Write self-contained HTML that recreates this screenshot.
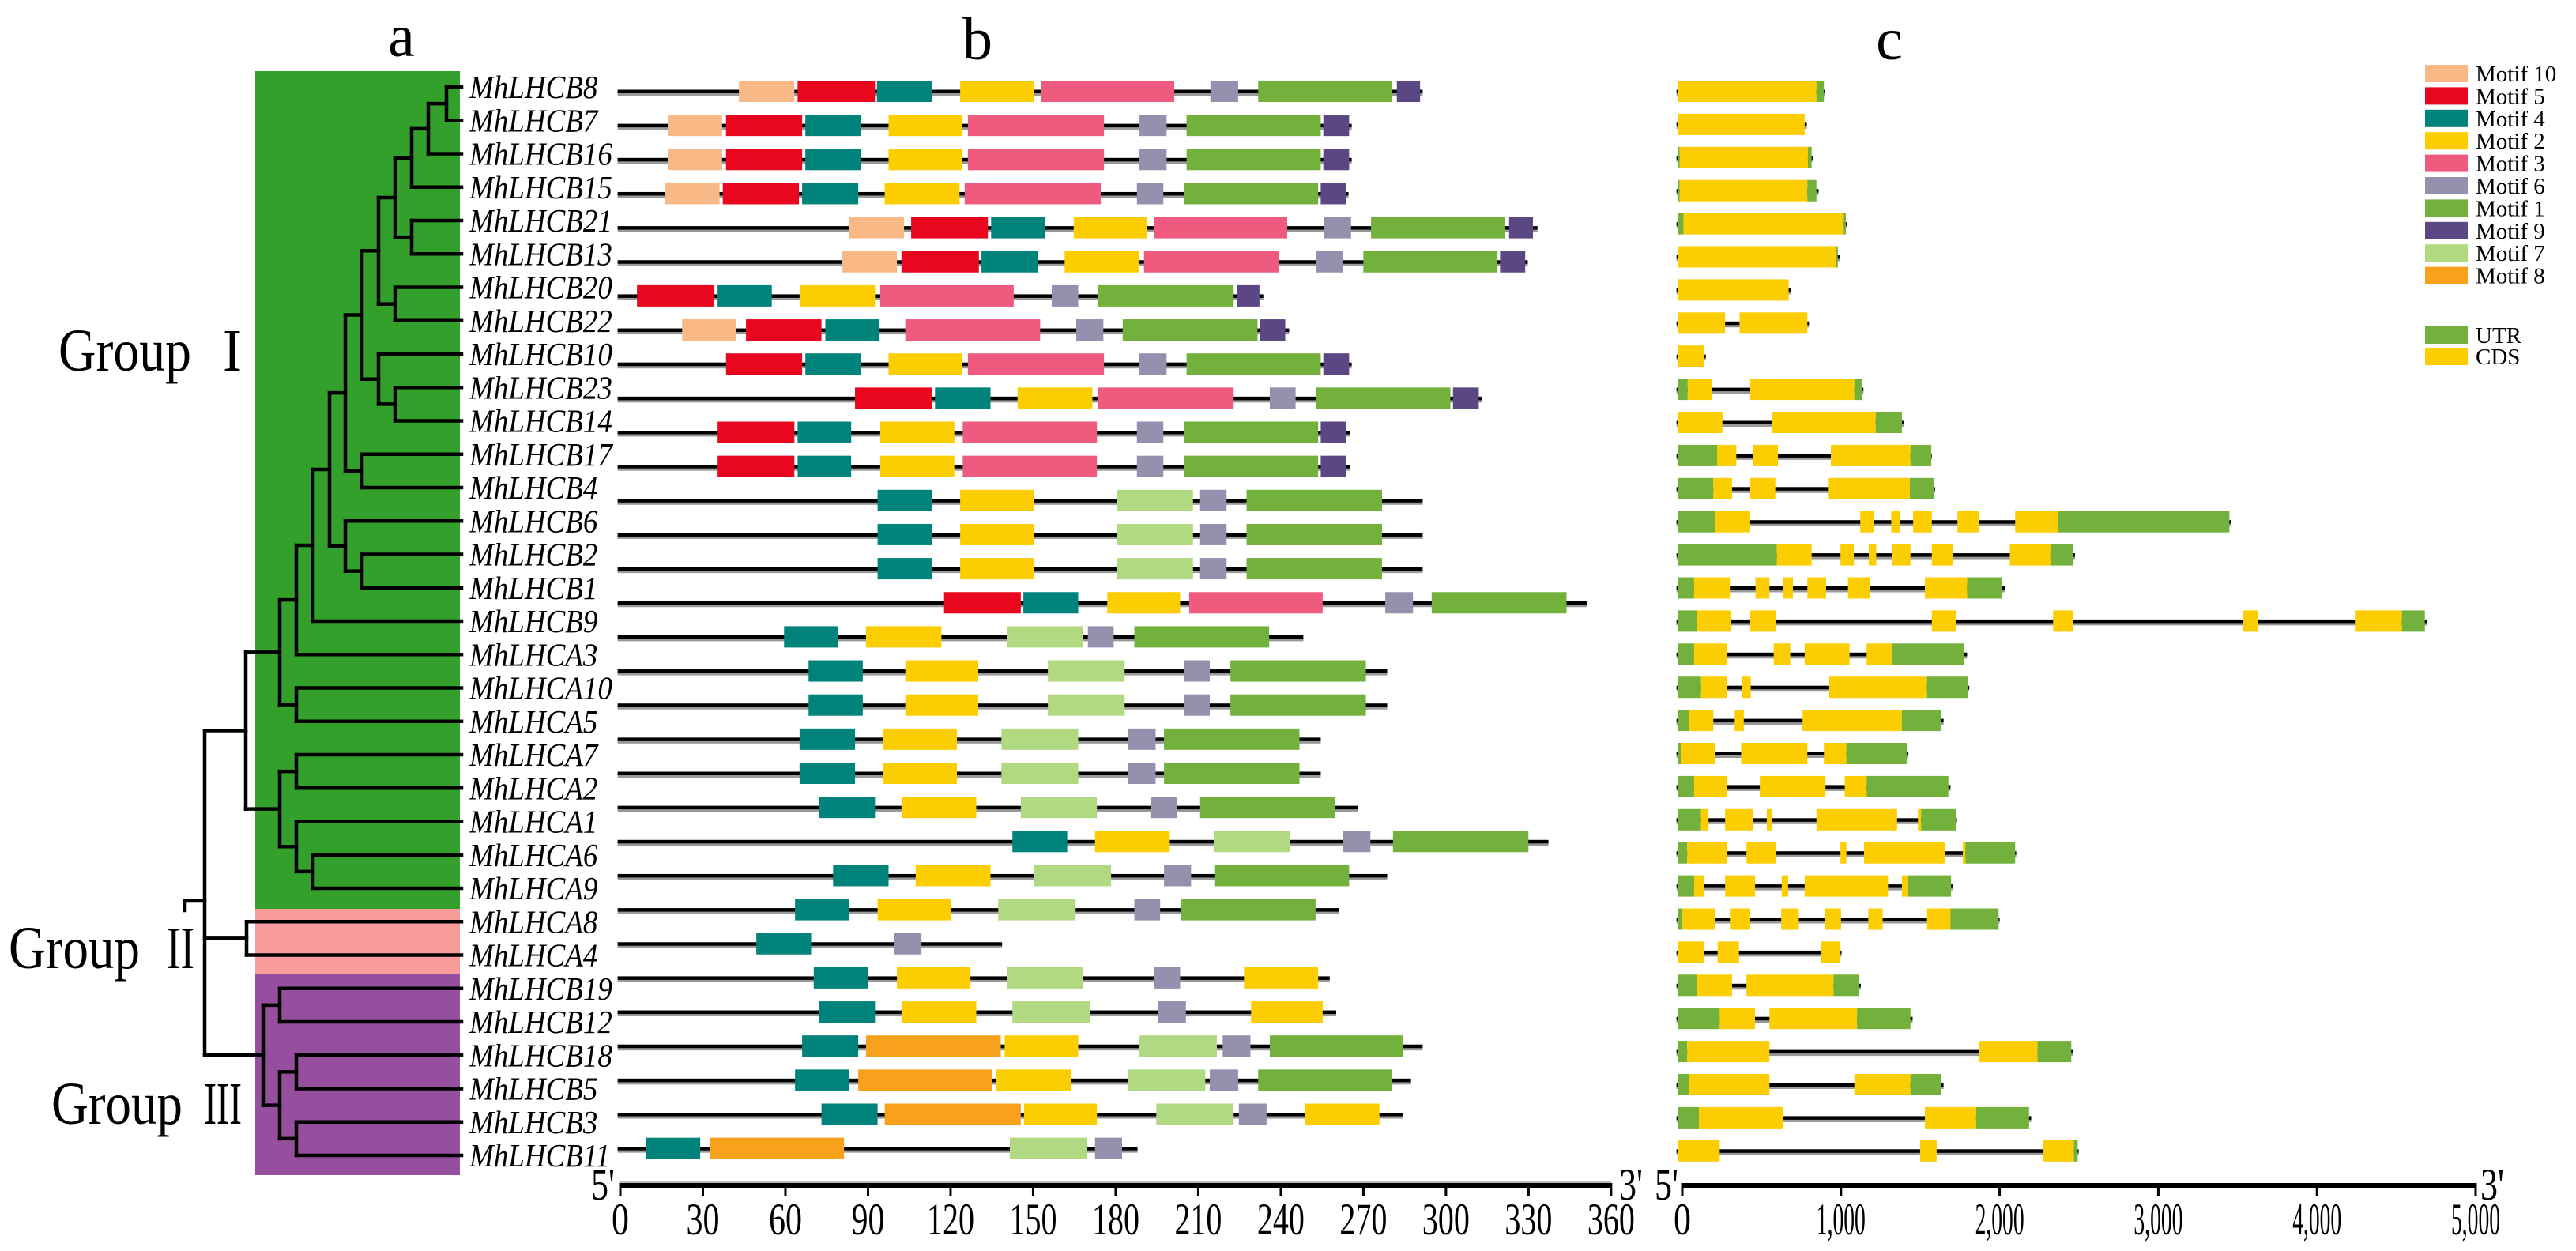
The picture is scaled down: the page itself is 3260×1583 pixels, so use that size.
<!DOCTYPE html>
<html><head><meta charset="utf-8">
<style>
html,body{margin:0;padding:0;background:#fff;}
svg{display:block;}
text{font-family:"Liberation Serif","Noto Serif CJK SC",serif;}
</style></head>
<body>
<svg id="s" xmlns="http://www.w3.org/2000/svg" width="3260" height="1583" viewBox="0 0 3260 1583">
<rect width="3260" height="1583" fill="#fff"/>
<rect x="323" y="90" width="259" height="1060" fill="#34A02C"/>
<rect x="323" y="1150" width="259" height="82" fill="#F99B9B"/>
<rect x="323" y="1232" width="259" height="255" fill="#954F9E"/>
<g id="tree" stroke="#000" stroke-width="4.5" fill="none" stroke-linecap="square"></g>
<g id="labels"></g>
<g id="bgenes" transform="translate(780,0) scale(0.81633,1)"></g>
<g id="cgenes" transform="translate(2100,0) scale(0.67604,1)"></g>
<g id="axes"></g>
<text x="508" y="71" font-size="76" text-anchor="middle">a</text>
<text x="1237" y="75" font-size="76" text-anchor="middle">b</text>
<text x="2391" y="75" font-size="76" text-anchor="middle">c</text>
<g transform="translate(0,469) scale(1,1.12)"><text x="74" y="0" font-size="68" textLength="168" lengthAdjust="spacingAndGlyphs">Group</text>
<text x="282" y="0" font-size="68" textLength="24" lengthAdjust="spacingAndGlyphs">I</text></g>
<g transform="translate(0,1225) scale(1,1.12)"><text x="11" y="0" font-size="68" textLength="166" lengthAdjust="spacingAndGlyphs">Group</text>
<text x="211" y="0" font-size="68" textLength="35" lengthAdjust="spacingAndGlyphs">II</text></g>
<g transform="translate(0,1422) scale(1,1.12)"><text x="65" y="0" font-size="68" textLength="166" lengthAdjust="spacingAndGlyphs">Group</text>
<text x="258" y="0" font-size="68" textLength="48" lengthAdjust="spacingAndGlyphs">III</text></g>
<g id="legend"></g>
</svg>
<script>
var NS="http://www.w3.org/2000/svg";
function el(p,tag,a,txt){var e=document.createElementNS(NS,tag);for(var k in a)e.setAttribute(k,a[k]);if(txt!==undefined)e.textContent=txt;p.appendChild(e);return e;}
var C={p:"#F9B987",r:"#E8071F",t:"#00837A",y:"#FCCD00",k:"#EF5B7E",s:"#9590AE",g:"#72B13C",d:"#5C4785",l:"#B1D982",o:"#F8A11C",G:"#72B13C",Y:"#FCCD00"};
var tg=document.getElementById("tree");
function T(i){return {x:584,y:110+42.25*i};}
function N(x){var k=[].slice.call(arguments,1);var ys=k.map(function(c){return c.y;});var mn=Math.min.apply(null,ys),mx=Math.max.apply(null,ys);
 el(tg,"line",{x1:x,y1:mn,x2:x,y2:mx});k.forEach(function(c){el(tg,"line",{x1:x,y1:c.y,x2:c.x,y2:c.y});});return {x:x,y:(mn+mx)/2};}
var n1=N(565,T(0),T(1)),n2=N(542,n1,T(2)),n3=N(521,n2,T(3)),n4=N(521,T(4),T(5)),n5=N(500,n3,n4),n6=N(500,T(6),T(7)),
n7=N(479,n5,n6),n8=N(500,T(9),T(10)),n9=N(479,T(8),n8),n10=N(458,n7,n9),n11=N(458,T(11),T(12)),n12=N(437,n10,n11),
n13=N(458,T(14),T(15)),n14=N(437,T(13),n13),n15=N(417,n12,n14),n16=N(396,n15,T(16)),n17=N(375,n16,T(17)),n18=N(375,T(18),T(19)),
n19=N(354,n17,n18),n20=N(375,T(20),T(21)),n21=N(396,T(23),T(24)),n22=N(375,T(22),n21),n23=N(354,n20,n22),n24=N(311,n19,n23),
n25=N(312,T(25),T(26)),n26=N(354,T(27),T(28)),n27=N(375,T(29),T(30)),n28=N(375,T(31),T(32)),n29=N(354,n27,n28),n30=N(333,n26,n29);
N(259,n24,n25,n30);
el(tg,"polyline",{points:"234,1152 234,1140 259,1140"});
var names=["MhLHCB8","MhLHCB7","MhLHCB16","MhLHCB15","MhLHCB21","MhLHCB13","MhLHCB20","MhLHCB22","MhLHCB10","MhLHCB23","MhLHCB14","MhLHCB17","MhLHCB4","MhLHCB6","MhLHCB2","MhLHCB1","MhLHCB9","MhLHCA3","MhLHCA10","MhLHCA5","MhLHCA7","MhLHCA2","MhLHCA1","MhLHCA6","MhLHCA9","MhLHCA8","MhLHCA4","MhLHCB19","MhLHCB12","MhLHCB18","MhLHCB5","MhLHCB3","MhLHCB11"];
var lg=document.getElementById("labels");
names.forEach(function(n,i){var g=el(lg,"g",{transform:"translate(594,"+(110+42.25*i+14)+") scale(1,1.12)"});
 el(g,"text",{x:0,y:0,"font-size":37,"font-style":"italic"},n);});
var B=[
[1250,"p190-276 r281-401 t404-489 y533-648 k658-865 s921-964 g995-1203 d1210-1246"],
[1140,"p80-164 r170-288 t293-379 y422-536 k545-756 s811-853 g884-1092 d1096-1136"],
[1140,"p80-164 r170-288 t293-379 y422-536 k545-756 s811-853 g884-1092 d1096-1136"],
[1135,"p76-160 r165-283 t288-375 y416-532 k540-751 s807-848 g880-1088 d1092-1131"],
[1428,"p361-446 r457-576 t581-664 y709-822 k833-1040 s1097-1139 g1170-1378 d1384-1421"],
[1413,"p350-435 r442-562 t566-653 y695-810 k818-1027 s1085-1126 g1158-1366 d1370-1409"],
[1003,"r32-152 t157-241 y284-401 k409-616 s675-716 g746-957 d962-997"],
[1043,"p102-185 r201-318 t324-408 k448-657 s713-755 g785-994 d998-1037"],
[1140,"r170-288 t293-379 y422-536 k545-756 s811-853 g884-1092 d1096-1136"],
[1342,"r370-490 t494-580 y622-738 k746-957 s1013-1053 g1085-1293 d1297-1337"],
[1137,"r157-276 t281-364 y409-524 k537-745 s807-848 g880-1088 d1092-1131"],
[1137,"r157-276 t281-364 y409-524 k537-745 s807-848 g880-1088 d1092-1131"],
[1250,"t405-489 y533-647 l776-894 s905-946 g977-1187"],
[1250,"t405-489 y533-647 l776-894 s905-946 g977-1187"],
[1250,"t405-489 y533-647 l776-894 s905-946 g977-1187"],
[1505,"r508-627 t631-716 y761-874 k888-1095 s1192-1235 g1264-1473"],
[1065,"t260-344 y387-504 l606-724 s731-771 g803-1012"],
[1195,"t298-382 y448-561 l669-788 s880-920 g952-1162"],
[1195,"t298-382 y448-561 l669-788 s880-920 g952-1162"],
[1092,"t284-370 y413-528 l597-716 s793-836 g849-1059"],
[1092,"t284-370 y413-528 l597-716 s793-836 g849-1059"],
[1150,"t314-401 y442-558 l627-745 s828-869 g905-1114"],
[1445,"t614-699 y742-858 l926-1044 s1126-1169 g1204-1414"],
[1195,"t336-422 y464-580 l648-767 s849-891 g927-1136"],
[1120,"t277-361 y405-519 l592-712 s803-843 g875-1084"],
[598,"t217-302 s431-473"],
[1106,"t306-390 y435-549 l606-724 s833-874 y973-1088"],
[1116,"t314-401 y442-558 l614-734 s840-883 y984-1095"],
[1250,"t288-375 o387-596 y602-716 l811-931 s940-983 g1013-1220"],
[1232,"t277-361 o375-583 y588-705 l793-913 s920-964 g995-1203"],
[1220,"t318-405 o416-627 y632-745 l837-957 s965-1008 y1067-1183"],
[808,"t46-130 o145-353 l610-730 s742-784"]];
function drawRows(g,rows,y0,dy,start){rows.forEach(function(r,i){var y=y0+dy*i;
 el(g,"rect",{x:start,y:y+1,width:r[0]-start,height:4,fill:"#999"});
 el(g,"rect",{x:start,y:y-2.5,width:r[0]-start,height:4.5,fill:"#000"});
 r[1].split(" ").forEach(function(s){var c=s[0],ab=s.slice(1).split("-");var a=+ab[0],b=+ab[1];
  el(g,"rect",{x:a,y:y-14,width:b-a,height:27,fill:C[c]});});});}
drawRows(document.getElementById("bgenes"),B,116,43.15,2);
var CC=[
[310,"Y34-294 G294-308"],[276,"Y34-272"],[288,"G34-38 Y38-278 G278-285"],[298,"G34-38 Y38-277 G277-294"],
[351,"G34-45 Y45-345 G345-349"],[338,"Y34-330 G330-334"],[246,"Y34-242"],[280,"Y34-123 Y150-277"],[87,"Y34-84"],
[382,"G34-53 Y53-98 Y170-365 G365-379"],[458,"Y34-118 Y210-405 G405-454"],
[510,"G34-108 Y108-144 Y175-222 Y321-470 G470-509"],[516,"G34-101 Y101-136 Y170-217 Y317-469 G469-514"],
[1070,"G34-105 Y105-170 Y376-401 Y434-450 Y475-510 Y558-598 Y666-746 G746-1067"],
[778,"G34-220 Y220-285 Y339-364 Y392-406 Y436-470 Y510-550 Y656-732 G732-775"],
[647,"G34-65 Y65-132 Y180-206 Y232-250 Y277-312 Y353-394 Y497-576 G576-642"],
[1437,"G34-71 Y71-134 Y170-219 Y510-555 Y737-775 Y1093-1120 Y1302-1390 G1390-1433"],
[576,"G34-65 Y65-127 Y214-245 Y272-356 Y388-435 G435-571"],
[580,"G34-78 Y78-127 Y154-171 Y318-501 G501-577"],
[532,"G34-56 Y56-101 Y141-158 Y268-454 G454-528"],
[466,"G34-40 Y40-105 Y153-277 Y308-350 G350-463"],
[545,"G34-65 Y65-127 Y188-311 Y347-388 G388-541"],
[557,"G34-78 Y78-92 Y123-175 Y201-210 Y294-445 Y484-490 G490-555"],
[668,"G34-52 Y52-127 Y163-219 Y339-350 Y383-534 Y568-573 G573-666"],
[549,"G34-65 Y65-83 Y123-179 Y229-241 Y272-428 Y454-466 G466-546"],
[637,"G34-43 Y43-105 Y132-170 Y228-261 Y310-340 Y391-418 Y501-545 G545-635"],
[341,"Y34-83 Y109-149 Y303-339"],[377,"G34-70 Y70-136 Y163-326 G326-373"],
[474,"G34-113 Y113-179 Y206-370 G370-470"],[774,"G34-52 Y52-206 Y599-708 G708-771"],
[532,"G34-56 Y56-206 Y365-470 G470-528"],[696,"G34-74 Y74-232 Y497-593 G593-692"],
[785,"Y34-113 Y488-519 Y719-776 G776-783"]];
drawRows(document.getElementById("cgenes"),CC,116,41.9,32);
var ax=document.getElementById("axes");
function tl(x,y,s,w){var g=el(ax,"g",{transform:"translate("+x+","+y+") scale(1,1.3)"});
 var a={x:0,y:0,"font-size":44,"text-anchor":"middle"};if(w){a.textLength=w;a.lengthAdjust="spacingAndGlyphs";}el(g,"text",a,s);}
el(ax,"rect",{x:785,y:1494,width:1254,height:3,fill:"#bbb"});
el(ax,"rect",{x:785,y:1497,width:1254,height:6,fill:"#000"});
for(var i=0;i<=12;i++){var x=785+i*30*3.483;el(ax,"rect",{x:x-1.5,y:1497,width:3,height:17,fill:"#000"});
 tl(x,1562,String(i*30),i==0?22:(i<4?42:60));}
el(ax,"rect",{x:2129,y:1497,width:1004,height:6,fill:"#000"});
var cl=["0","1,000","2,000","3,000","4,000","5,000"];
for(var i=0;i<=5;i++){var x=2129+i*200.8;el(ax,"rect",{x:x-1.5,y:1497,width:3,height:17,fill:"#000"});
 tl(x,1562,cl[i],i==0?22:62);}
tl(763,1518,"5'");tl(2064,1518,"3'");tl(2109,1518,"5'");tl(3154,1518,"3'");
var lgd=document.getElementById("legend");
var L=[["p","Motif 10"],["r","Motif 5"],["t","Motif 4"],["y","Motif 2"],["k","Motif 3"],["s","Motif 6"],["g","Motif 1"],["d","Motif 9"],["l","Motif 7"],["o","Motif 8"]];
L.forEach(function(m,i){var y=93+28.4*i;el(lgd,"rect",{x:3069,y:y-11,width:54,height:22,fill:C[m[0]]});
 el(lgd,"text",{x:3133,y:y+10,"font-size":29},m[1]);});
[["G","UTR",424],["Y","CDS",451]].forEach(function(m){el(lgd,"rect",{x:3069,y:m[2]-11,width:54,height:22,fill:C[m[0]]});
 el(lgd,"text",{x:3133,y:m[2]+10,"font-size":29},m[1]);});
</script>
</body></html>
